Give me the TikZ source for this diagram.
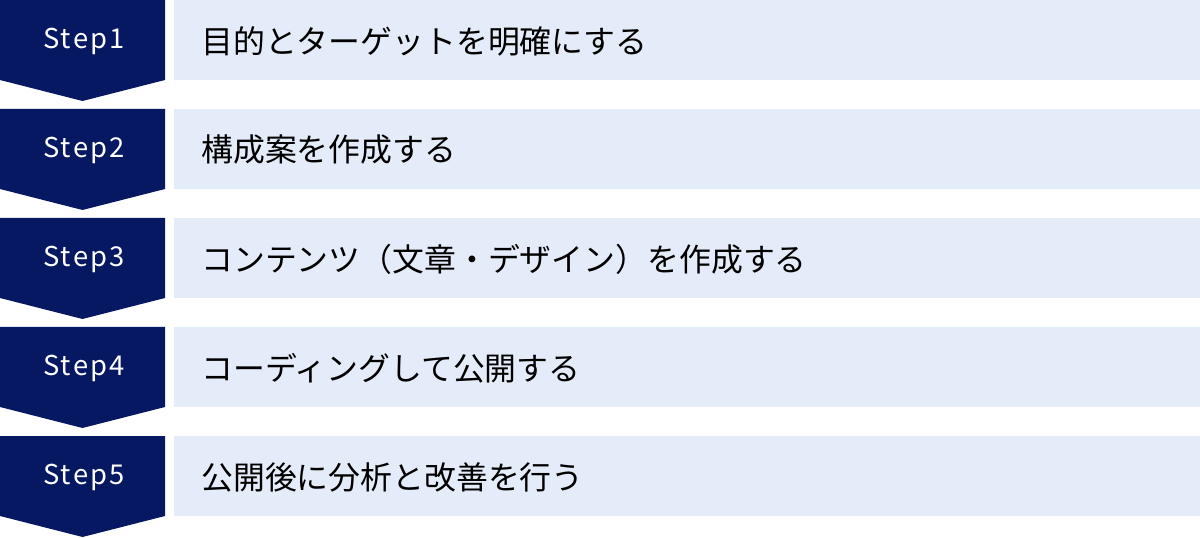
\documentclass[tikz,border=0pt]{standalone}
\usepackage{fontspec}
\setmainfont{Noto Sans CJK JP}
\definecolor{navy}{HTML}{061862}
\definecolor{lightbg}{HTML}{E5ECF9}
\begin{document}
\begin{tikzpicture}[x=0.75pt,y=-0.75pt,
  chev/.style={fill=navy,draw=none},
  bar/.style={fill=lightbg,draw=none},
  steplabel/.style={text=white,font=\fontsize{20.5}{22}\selectfont\addfontfeatures{LetterSpace=8.5},anchor=center,inner sep=0pt},
  desc/.style={text=black,font=\fontsize{23.9}{26}\selectfont,anchor=west,inner sep=0pt}]
\useasboundingbox (0,0) rectangle (1200,538);
\foreach \i/\t in {1/目的とターゲットを明確にする,2/構成案を作成する,3/コンテンツ（文章・デザイン）を作成する,4/コーディングして公開する,5/公開後に分析と改善を行う}{
  \pgfmathsetmacro{\top}{(\i-1)*109}
  \fill[chev] (0,\top) -- (165,\top) -- (165,\top+80) -- (82.5,\top+101) -- (0,\top+80) -- cycle;
  \fill[bar] (174,\top) rectangle (1200,\top+80);
  \node[steplabel] (s\i) at (84,\top+41) {Step\i};
  \node[desc] (d\i) at (201,\top+41) {\t};
}
\end{tikzpicture}
\end{document}
